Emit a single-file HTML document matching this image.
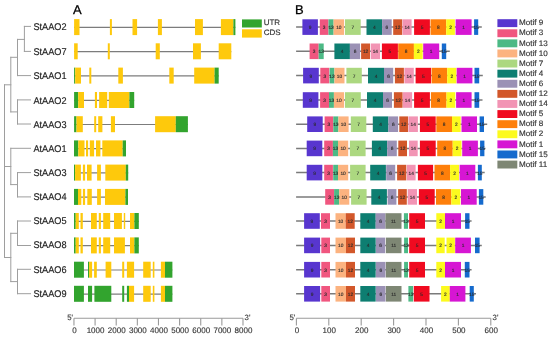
<!DOCTYPE html><html><head><meta charset="utf-8"><style>html,body{margin:0;padding:0;background:#fff;overflow:hidden;width:550px;height:339px;}svg{display:block;will-change:transform;}text{font-family:"Liberation Sans",sans-serif;text-rendering:geometricPrecision;}</style></head><body>
<svg width="550" height="339" viewBox="0 0 550 339">
<rect width="550" height="339" fill="#fff"/>
<g stroke="#9e9e9e" stroke-width="1" fill="none" stroke-linecap="square">
<line x1="24.4" y1="26.4" x2="30.5" y2="26.4"/>
<line x1="24.4" y1="51.4" x2="30.5" y2="51.4"/>
<line x1="24.4" y1="26.4" x2="24.4" y2="51.4"/>
<line x1="17.5" y1="39.4" x2="24.4" y2="39.4"/>
<line x1="17.5" y1="75.6" x2="30.5" y2="75.6"/>
<line x1="17.5" y1="39.4" x2="17.5" y2="75.6"/>
<line x1="17.5" y1="99.9" x2="30.5" y2="99.9"/>
<line x1="17.5" y1="124" x2="30.5" y2="124"/>
<line x1="17.5" y1="99.9" x2="17.5" y2="124"/>
<line x1="10.8" y1="57.3" x2="17.5" y2="57.3"/>
<line x1="10.8" y1="111.9" x2="17.5" y2="111.9"/>
<line x1="10.8" y1="57.3" x2="10.8" y2="111.9"/>
<line x1="4.5" y1="84.8" x2="10.8" y2="84.8"/>
<line x1="10.8" y1="148.3" x2="30.5" y2="148.3"/>
<line x1="17.5" y1="172.6" x2="30.5" y2="172.6"/>
<line x1="17.5" y1="196.9" x2="30.5" y2="196.9"/>
<line x1="17.5" y1="172.6" x2="17.5" y2="196.9"/>
<line x1="10.8" y1="184.6" x2="17.5" y2="184.6"/>
<line x1="10.8" y1="148.3" x2="10.8" y2="184.6"/>
<line x1="4.5" y1="166.5" x2="10.8" y2="166.5"/>
<line x1="17.5" y1="221" x2="30.5" y2="221"/>
<line x1="17.5" y1="245.5" x2="30.5" y2="245.5"/>
<line x1="17.5" y1="221" x2="17.5" y2="245.5"/>
<line x1="17.5" y1="269.3" x2="30.5" y2="269.3"/>
<line x1="17.5" y1="293.7" x2="30.5" y2="293.7"/>
<line x1="17.5" y1="269.3" x2="17.5" y2="293.7"/>
<line x1="10.8" y1="233.3" x2="17.5" y2="233.3"/>
<line x1="10.8" y1="281.6" x2="17.5" y2="281.6"/>
<line x1="10.8" y1="233.3" x2="10.8" y2="281.6"/>
<line x1="4.5" y1="257.5" x2="10.8" y2="257.5"/>
<line x1="4.5" y1="84.8" x2="4.5" y2="257.5"/>
</g>
<text transform="translate(33.4 29.85) scale(1 1.06)" font-size="9.2" fill="#1e1e1e" stroke="#1e1e1e" stroke-width="0.15">StAAO2</text>
<text transform="translate(33.4 54.55) scale(1 1.06)" font-size="9.2" fill="#1e1e1e" stroke="#1e1e1e" stroke-width="0.15">StAAO7</text>
<text transform="translate(33.4 78.85) scale(1 1.06)" font-size="9.2" fill="#1e1e1e" stroke="#1e1e1e" stroke-width="0.15">StAAO1</text>
<text transform="translate(33.4 103.55) scale(1 1.06)" font-size="9.2" fill="#1e1e1e" stroke="#1e1e1e" stroke-width="0.15">AtAAO2</text>
<text transform="translate(33.4 127.55) scale(1 1.06)" font-size="9.2" fill="#1e1e1e" stroke="#1e1e1e" stroke-width="0.15">AtAAO3</text>
<text transform="translate(33.4 151.55) scale(1 1.06)" font-size="9.2" fill="#1e1e1e" stroke="#1e1e1e" stroke-width="0.15">AtAAO1</text>
<text transform="translate(33.4 175.7) scale(1 1.06)" font-size="9.2" fill="#1e1e1e" stroke="#1e1e1e" stroke-width="0.15">StAAO3</text>
<text transform="translate(33.4 200.45) scale(1 1.06)" font-size="9.2" fill="#1e1e1e" stroke="#1e1e1e" stroke-width="0.15">StAAO4</text>
<text transform="translate(33.4 224.45) scale(1 1.06)" font-size="9.2" fill="#1e1e1e" stroke="#1e1e1e" stroke-width="0.15">StAAO5</text>
<text transform="translate(33.4 248.45) scale(1 1.06)" font-size="9.2" fill="#1e1e1e" stroke="#1e1e1e" stroke-width="0.15">StAAO8</text>
<text transform="translate(33.4 272.95) scale(1 1.06)" font-size="9.2" fill="#1e1e1e" stroke="#1e1e1e" stroke-width="0.15">StAAO6</text>
<text transform="translate(33.4 297.45) scale(1 1.06)" font-size="9.2" fill="#1e1e1e" stroke="#1e1e1e" stroke-width="0.15">StAAO9</text>
<text transform="translate(72.9 13.55) scale(1 0.97)" font-size="13" fill="#000" stroke="#000" stroke-width="0.28">A</text>
<text transform="translate(295 13.55) scale(1 0.97)" font-size="13" fill="#000" stroke="#000" stroke-width="0.28">B</text>
<line x1="74" y1="27.4" x2="235.4" y2="27.4" stroke="#7c7c7c" stroke-width="1.2"/>
<rect x="74.1" y="19.1" width="5.4" height="16" fill="#fec90c"/>
<rect x="109.9" y="19.1" width="2" height="16" fill="#fec90c"/>
<rect x="132.5" y="19.1" width="4.6" height="16" fill="#fec90c"/>
<rect x="157.9" y="19.1" width="4" height="16" fill="#fec90c"/>
<rect x="195" y="19.1" width="7.9" height="16" fill="#fec90c"/>
<rect x="220.9" y="19.1" width="12.5" height="16" fill="#fec90c"/>
<rect x="233.4" y="19.1" width="2" height="16" fill="#32a42e"/>
<line x1="74" y1="51.6" x2="231.3" y2="51.6" stroke="#7c7c7c" stroke-width="1.2"/>
<rect x="74.1" y="43.3" width="3.6" height="16" fill="#fec90c"/>
<rect x="107.8" y="43.3" width="2" height="16" fill="#fec90c"/>
<rect x="155.7" y="43.3" width="4.1" height="16" fill="#fec90c"/>
<rect x="193" y="43.3" width="7.9" height="16" fill="#fec90c"/>
<rect x="218.7" y="43.3" width="12.6" height="16" fill="#fec90c"/>
<line x1="74" y1="75.9" x2="218.7" y2="75.9" stroke="#7c7c7c" stroke-width="1.2"/>
<rect x="74.1" y="67.6" width="1.1" height="16" fill="#32a42e"/>
<rect x="75.2" y="67.6" width="5.8" height="16" fill="#fec90c"/>
<rect x="89.3" y="67.6" width="2" height="16" fill="#fec90c"/>
<rect x="118.3" y="67.6" width="4.6" height="16" fill="#fec90c"/>
<rect x="169.3" y="67.6" width="4.4" height="16" fill="#fec90c"/>
<rect x="194.2" y="67.6" width="20.4" height="16" fill="#fec90c"/>
<rect x="214.6" y="67.6" width="4.1" height="16" fill="#32a42e"/>
<line x1="74" y1="100.3" x2="134.2" y2="100.3" stroke="#7c7c7c" stroke-width="1.2"/>
<rect x="74.1" y="92" width="4.1" height="16" fill="#32a42e"/>
<rect x="78.2" y="92" width="5.8" height="16" fill="#fec90c"/>
<rect x="94.9" y="92" width="2.1" height="16" fill="#fec90c"/>
<rect x="99.1" y="92" width="8.1" height="16" fill="#fec90c"/>
<rect x="108.8" y="92" width="20.6" height="16" fill="#fec90c"/>
<rect x="129.4" y="92" width="4.8" height="16" fill="#32a42e"/>
<line x1="74" y1="124.5" x2="187.9" y2="124.5" stroke="#7c7c7c" stroke-width="1.2"/>
<rect x="74.1" y="116.2" width="2.4" height="16" fill="#32a42e"/>
<rect x="76.5" y="116.2" width="6.3" height="16" fill="#fec90c"/>
<rect x="94.2" y="116.2" width="2" height="16" fill="#fec90c"/>
<rect x="98.2" y="116.2" width="4.2" height="16" fill="#fec90c"/>
<rect x="110.9" y="116.2" width="4.1" height="16" fill="#fec90c"/>
<rect x="155.1" y="116.2" width="20.7" height="16" fill="#fec90c"/>
<rect x="175.8" y="116.2" width="12.1" height="16" fill="#32a42e"/>
<line x1="74" y1="148.7" x2="126" y2="148.7" stroke="#7c7c7c" stroke-width="1.2"/>
<rect x="74" y="140.4" width="4.3" height="16" fill="#32a42e"/>
<rect x="78.3" y="140.4" width="6.2" height="16" fill="#fec90c"/>
<rect x="86" y="140.4" width="2.1" height="16" fill="#fec90c"/>
<rect x="89.8" y="140.4" width="4.3" height="16" fill="#fec90c"/>
<rect x="96" y="140.4" width="4.4" height="16" fill="#fec90c"/>
<rect x="102.3" y="140.4" width="20.4" height="16" fill="#fec90c"/>
<rect x="122.7" y="140.4" width="3.3" height="16" fill="#32a42e"/>
<line x1="74" y1="172.9" x2="128.2" y2="172.9" stroke="#7c7c7c" stroke-width="1.2"/>
<rect x="74" y="164.6" width="1.1" height="16" fill="#32a42e"/>
<rect x="75.1" y="164.6" width="5.8" height="16" fill="#fec90c"/>
<rect x="82.9" y="164.6" width="2.2" height="16" fill="#fec90c"/>
<rect x="87" y="164.6" width="4.6" height="16" fill="#fec90c"/>
<rect x="97.1" y="164.6" width="3.8" height="16" fill="#fec90c"/>
<rect x="105.3" y="164.6" width="20.5" height="16" fill="#fec90c"/>
<rect x="125.8" y="164.6" width="2.4" height="16" fill="#32a42e"/>
<line x1="74" y1="197.2" x2="128" y2="197.2" stroke="#7c7c7c" stroke-width="1.2"/>
<rect x="74" y="188.9" width="4" height="16" fill="#32a42e"/>
<rect x="78" y="188.9" width="3.3" height="16" fill="#fec90c"/>
<rect x="82.9" y="188.9" width="2.2" height="16" fill="#fec90c"/>
<rect x="87.3" y="188.9" width="4.5" height="16" fill="#fec90c"/>
<rect x="97.1" y="188.9" width="3.8" height="16" fill="#fec90c"/>
<rect x="105" y="188.9" width="20.4" height="16" fill="#fec90c"/>
<rect x="125.4" y="188.9" width="2.6" height="16" fill="#32a42e"/>
<line x1="74" y1="221.3" x2="138.8" y2="221.3" stroke="#7c7c7c" stroke-width="1.2"/>
<rect x="74" y="213" width="1.7" height="16" fill="#32a42e"/>
<rect x="75.7" y="213" width="3.1" height="16" fill="#fec90c"/>
<rect x="80.5" y="213" width="2.3" height="16" fill="#fec90c"/>
<rect x="91" y="213" width="5.8" height="16" fill="#fec90c"/>
<rect x="98.8" y="213" width="2.1" height="16" fill="#fec90c"/>
<rect x="103.2" y="213" width="7" height="16" fill="#fec90c"/>
<rect x="114" y="213" width="7.9" height="16" fill="#fec90c"/>
<rect x="123.8" y="213" width="1.4" height="16" fill="#fec90c"/>
<rect x="130" y="213" width="4.4" height="16" fill="#fec90c"/>
<rect x="134.4" y="213" width="4.4" height="16" fill="#32a42e"/>
<line x1="74" y1="245.7" x2="138.8" y2="245.7" stroke="#7c7c7c" stroke-width="1.2"/>
<rect x="74" y="237.4" width="1.7" height="16" fill="#32a42e"/>
<rect x="75.7" y="237.4" width="3.1" height="16" fill="#fec90c"/>
<rect x="80.5" y="237.4" width="2.3" height="16" fill="#fec90c"/>
<rect x="91" y="237.4" width="5.8" height="16" fill="#fec90c"/>
<rect x="98.8" y="237.4" width="2.1" height="16" fill="#fec90c"/>
<rect x="103.2" y="237.4" width="7" height="16" fill="#fec90c"/>
<rect x="114" y="237.4" width="10.9" height="16" fill="#fec90c"/>
<rect x="130" y="237.4" width="4.4" height="16" fill="#fec90c"/>
<rect x="134.4" y="237.4" width="4.4" height="16" fill="#32a42e"/>
<line x1="74" y1="270" x2="172.4" y2="270" stroke="#7c7c7c" stroke-width="1.2"/>
<rect x="74" y="261.7" width="9.9" height="16" fill="#32a42e"/>
<rect x="88" y="261.7" width="1.1" height="16" fill="#32a42e"/>
<rect x="89.1" y="261.7" width="3" height="16" fill="#fec90c"/>
<rect x="94.1" y="261.7" width="2.7" height="16" fill="#fec90c"/>
<rect x="105.6" y="261.7" width="5.7" height="16" fill="#fec90c"/>
<rect x="122.2" y="261.7" width="2" height="16" fill="#fec90c"/>
<rect x="126.9" y="261.7" width="7.2" height="16" fill="#fec90c"/>
<rect x="143.2" y="261.7" width="7.5" height="16" fill="#fec90c"/>
<rect x="152.8" y="261.7" width="1.6" height="16" fill="#fec90c"/>
<rect x="160.9" y="261.7" width="4.1" height="16" fill="#fec90c"/>
<rect x="165" y="261.7" width="7.4" height="16" fill="#32a42e"/>
<line x1="74" y1="294.1" x2="172.4" y2="294.1" stroke="#7c7c7c" stroke-width="1.2"/>
<rect x="74" y="285.8" width="9.9" height="16" fill="#32a42e"/>
<rect x="88" y="285.8" width="4.1" height="16" fill="#32a42e"/>
<rect x="94.4" y="285.8" width="16.9" height="16" fill="#32a42e"/>
<rect x="122.2" y="285.8" width="2" height="16" fill="#32a42e"/>
<rect x="126.9" y="285.8" width="2.1" height="16" fill="#32a42e"/>
<rect x="129" y="285.8" width="5.1" height="16" fill="#fec90c"/>
<rect x="143.2" y="285.8" width="7.5" height="16" fill="#fec90c"/>
<rect x="152.8" y="285.8" width="1.6" height="16" fill="#fec90c"/>
<rect x="160.9" y="285.8" width="4.1" height="16" fill="#fec90c"/>
<rect x="165" y="285.8" width="7.4" height="16" fill="#32a42e"/>
<rect x="242" y="19.4" width="19.8" height="8.1" fill="#32a42e"/>
<rect x="242" y="29.3" width="19.8" height="8.3" fill="#fec90c"/>
<text transform="translate(263.7 24.9) scale(1 0.98)" font-size="8" fill="#333" stroke="#333" stroke-width="0.15">UTR</text>
<text transform="translate(263.7 35.1) scale(1 0.98)" font-size="8" fill="#333" stroke="#333" stroke-width="0.15">CDS</text>
<line x1="296.1" y1="27.1" x2="481.8" y2="27.1" stroke="#7a7a7a" stroke-width="1.5"/>
<rect x="302.4" y="19.3" width="15.5" height="15.6" fill="#5836cf"/>
<rect x="319.8" y="19.3" width="8.7" height="15.6" fill="#f0567f"/>
<rect x="328.5" y="19.3" width="5.1" height="15.6" fill="#4cb985"/>
<rect x="333.6" y="19.3" width="10.5" height="15.6" fill="#fcb380"/>
<rect x="345" y="19.3" width="15.7" height="15.6" fill="#acd880"/>
<rect x="366.5" y="19.3" width="15.6" height="15.6" fill="#0d7e71"/>
<rect x="382.1" y="19.3" width="9.6" height="15.6" fill="#9b91b5"/>
<rect x="393.2" y="19.3" width="9" height="15.6" fill="#d2572a"/>
<rect x="402.5" y="19.3" width="9.1" height="15.6" fill="#f294b4"/>
<rect x="414.1" y="19.3" width="15.8" height="15.6" fill="#f00a20"/>
<rect x="430.5" y="19.3" width="15.7" height="15.6" fill="#fe7f0a"/>
<rect x="446.2" y="19.3" width="8.7" height="15.6" fill="#fcfa1e"/>
<rect x="455.6" y="19.3" width="16" height="15.6" fill="#d616d3"/>
<rect x="474.1" y="19.3" width="4.1" height="15.6" fill="#156acd"/>
<text x="310.15" y="29.05" font-size="4.8" fill="#2a2a2a" text-anchor="middle" stroke="#2a2a2a" stroke-width="0.12">9</text>
<text x="324.15" y="29.05" font-size="4.8" fill="#2a2a2a" text-anchor="middle" stroke="#2a2a2a" stroke-width="0.12">3</text>
<text x="331.05" y="29.05" font-size="4.8" fill="#2a2a2a" text-anchor="middle" stroke="#2a2a2a" stroke-width="0.12">13</text>
<text x="338.85" y="29.05" font-size="4.8" fill="#2a2a2a" text-anchor="middle" stroke="#2a2a2a" stroke-width="0.12">10</text>
<text x="352.85" y="29.05" font-size="4.8" fill="#2a2a2a" text-anchor="middle" stroke="#2a2a2a" stroke-width="0.12">7</text>
<text x="374.3" y="29.05" font-size="4.8" fill="#2a2a2a" text-anchor="middle" stroke="#2a2a2a" stroke-width="0.12">4</text>
<text x="386.9" y="29.05" font-size="4.8" fill="#2a2a2a" text-anchor="middle" stroke="#2a2a2a" stroke-width="0.12">6</text>
<text x="397.7" y="29.05" font-size="4.8" fill="#2a2a2a" text-anchor="middle" stroke="#2a2a2a" stroke-width="0.12">12</text>
<text x="407.05" y="29.05" font-size="4.8" fill="#2a2a2a" text-anchor="middle" stroke="#2a2a2a" stroke-width="0.12">14</text>
<text x="422" y="29.05" font-size="4.8" fill="#2a2a2a" text-anchor="middle" stroke="#2a2a2a" stroke-width="0.12">5</text>
<text x="438.35" y="29.05" font-size="4.8" fill="#2a2a2a" text-anchor="middle" stroke="#2a2a2a" stroke-width="0.12">8</text>
<text x="450.55" y="29.05" font-size="4.8" fill="#2a2a2a" text-anchor="middle" stroke="#2a2a2a" stroke-width="0.12">2</text>
<text x="463.6" y="29.05" font-size="4.8" fill="#2a2a2a" text-anchor="middle" stroke="#2a2a2a" stroke-width="0.12">1</text>
<text x="476.15" y="29.05" font-size="4.8" fill="#2a2a2a" text-anchor="middle" stroke="#2a2a2a" stroke-width="0.12">15</text>
<line x1="296.1" y1="51.3" x2="449.8" y2="51.3" stroke="#7a7a7a" stroke-width="1.5"/>
<rect x="309.6" y="43.5" width="9.1" height="15.6" fill="#f0567f"/>
<rect x="318.7" y="43.5" width="5" height="15.6" fill="#4cb985"/>
<rect x="334.4" y="43.5" width="15.5" height="15.6" fill="#0d7e71"/>
<rect x="349.9" y="43.5" width="10.2" height="15.6" fill="#9b91b5"/>
<rect x="361.1" y="43.5" width="8.9" height="15.6" fill="#d2572a"/>
<rect x="370.7" y="43.5" width="9.3" height="15.6" fill="#f294b4"/>
<rect x="381.9" y="43.5" width="16" height="15.6" fill="#f00a20"/>
<rect x="398.2" y="43.5" width="15.7" height="15.6" fill="#fe7f0a"/>
<rect x="413.9" y="43.5" width="8.8" height="15.6" fill="#fcfa1e"/>
<rect x="423.2" y="43.5" width="16" height="15.6" fill="#d616d3"/>
<rect x="441.8" y="43.5" width="4.4" height="15.6" fill="#156acd"/>
<text x="314.15" y="53.25" font-size="4.8" fill="#2a2a2a" text-anchor="middle" stroke="#2a2a2a" stroke-width="0.12">3</text>
<text x="321.2" y="53.25" font-size="4.8" fill="#2a2a2a" text-anchor="middle" stroke="#2a2a2a" stroke-width="0.12">13</text>
<text x="342.15" y="53.25" font-size="4.8" fill="#2a2a2a" text-anchor="middle" stroke="#2a2a2a" stroke-width="0.12">4</text>
<text x="355" y="53.25" font-size="4.8" fill="#2a2a2a" text-anchor="middle" stroke="#2a2a2a" stroke-width="0.12">6</text>
<text x="365.55" y="53.25" font-size="4.8" fill="#2a2a2a" text-anchor="middle" stroke="#2a2a2a" stroke-width="0.12">12</text>
<text x="375.35" y="53.25" font-size="4.8" fill="#2a2a2a" text-anchor="middle" stroke="#2a2a2a" stroke-width="0.12">14</text>
<text x="389.9" y="53.25" font-size="4.8" fill="#2a2a2a" text-anchor="middle" stroke="#2a2a2a" stroke-width="0.12">5</text>
<text x="406.05" y="53.25" font-size="4.8" fill="#2a2a2a" text-anchor="middle" stroke="#2a2a2a" stroke-width="0.12">8</text>
<text x="418.3" y="53.25" font-size="4.8" fill="#2a2a2a" text-anchor="middle" stroke="#2a2a2a" stroke-width="0.12">2</text>
<text x="431.2" y="53.25" font-size="4.8" fill="#2a2a2a" text-anchor="middle" stroke="#2a2a2a" stroke-width="0.12">1</text>
<text x="444" y="53.25" font-size="4.8" fill="#2a2a2a" text-anchor="middle" stroke="#2a2a2a" stroke-width="0.12">15</text>
<line x1="296.1" y1="75.6" x2="482.8" y2="75.6" stroke="#7a7a7a" stroke-width="1.5"/>
<rect x="303.1" y="67.8" width="15.7" height="15.6" fill="#5836cf"/>
<rect x="320.3" y="67.8" width="9" height="15.6" fill="#f0567f"/>
<rect x="329.6" y="67.8" width="4.8" height="15.6" fill="#4cb985"/>
<rect x="334.4" y="67.8" width="10.1" height="15.6" fill="#fcb380"/>
<rect x="346.4" y="67.8" width="15.4" height="15.6" fill="#acd880"/>
<rect x="368" y="67.8" width="16" height="15.6" fill="#0d7e71"/>
<rect x="384" y="67.8" width="9.2" height="15.6" fill="#9b91b5"/>
<rect x="394.9" y="67.8" width="9" height="15.6" fill="#d2572a"/>
<rect x="404.4" y="67.8" width="9.4" height="15.6" fill="#f294b4"/>
<rect x="415.6" y="67.8" width="15.5" height="15.6" fill="#f00a20"/>
<rect x="431.6" y="67.8" width="15.6" height="15.6" fill="#fe7f0a"/>
<rect x="447.2" y="67.8" width="9.2" height="15.6" fill="#fcfa1e"/>
<rect x="456.7" y="67.8" width="15.7" height="15.6" fill="#d616d3"/>
<rect x="474.5" y="67.8" width="4.7" height="15.6" fill="#156acd"/>
<text x="310.95" y="77.55" font-size="4.8" fill="#2a2a2a" text-anchor="middle" stroke="#2a2a2a" stroke-width="0.12">9</text>
<text x="324.8" y="77.55" font-size="4.8" fill="#2a2a2a" text-anchor="middle" stroke="#2a2a2a" stroke-width="0.12">3</text>
<text x="332" y="77.55" font-size="4.8" fill="#2a2a2a" text-anchor="middle" stroke="#2a2a2a" stroke-width="0.12">13</text>
<text x="339.45" y="77.55" font-size="4.8" fill="#2a2a2a" text-anchor="middle" stroke="#2a2a2a" stroke-width="0.12">10</text>
<text x="354.1" y="77.55" font-size="4.8" fill="#2a2a2a" text-anchor="middle" stroke="#2a2a2a" stroke-width="0.12">7</text>
<text x="376" y="77.55" font-size="4.8" fill="#2a2a2a" text-anchor="middle" stroke="#2a2a2a" stroke-width="0.12">4</text>
<text x="388.6" y="77.55" font-size="4.8" fill="#2a2a2a" text-anchor="middle" stroke="#2a2a2a" stroke-width="0.12">6</text>
<text x="399.4" y="77.55" font-size="4.8" fill="#2a2a2a" text-anchor="middle" stroke="#2a2a2a" stroke-width="0.12">12</text>
<text x="409.1" y="77.55" font-size="4.8" fill="#2a2a2a" text-anchor="middle" stroke="#2a2a2a" stroke-width="0.12">14</text>
<text x="423.35" y="77.55" font-size="4.8" fill="#2a2a2a" text-anchor="middle" stroke="#2a2a2a" stroke-width="0.12">5</text>
<text x="439.4" y="77.55" font-size="4.8" fill="#2a2a2a" text-anchor="middle" stroke="#2a2a2a" stroke-width="0.12">8</text>
<text x="451.8" y="77.55" font-size="4.8" fill="#2a2a2a" text-anchor="middle" stroke="#2a2a2a" stroke-width="0.12">2</text>
<text x="464.55" y="77.55" font-size="4.8" fill="#2a2a2a" text-anchor="middle" stroke="#2a2a2a" stroke-width="0.12">1</text>
<text x="476.85" y="77.55" font-size="4.8" fill="#2a2a2a" text-anchor="middle" stroke="#2a2a2a" stroke-width="0.12">15</text>
<line x1="296.1" y1="100" x2="482.5" y2="100" stroke="#7a7a7a" stroke-width="1.5"/>
<rect x="302.8" y="92.2" width="15.6" height="15.6" fill="#5836cf"/>
<rect x="320.1" y="92.2" width="8.9" height="15.6" fill="#f0567f"/>
<rect x="329" y="92.2" width="4.9" height="15.6" fill="#4cb985"/>
<rect x="333.9" y="92.2" width="10.2" height="15.6" fill="#fcb380"/>
<rect x="345" y="92.2" width="15.8" height="15.6" fill="#acd880"/>
<rect x="367" y="92.2" width="16" height="15.6" fill="#0d7e71"/>
<rect x="383" y="92.2" width="9" height="15.6" fill="#9b91b5"/>
<rect x="393.9" y="92.2" width="8.7" height="15.6" fill="#d2572a"/>
<rect x="402.9" y="92.2" width="9.2" height="15.6" fill="#f294b4"/>
<rect x="414.1" y="92.2" width="15.8" height="15.6" fill="#f00a20"/>
<rect x="430.9" y="92.2" width="15.6" height="15.6" fill="#fe7f0a"/>
<rect x="446.5" y="92.2" width="8.8" height="15.6" fill="#fcfa1e"/>
<rect x="456.1" y="92.2" width="15.5" height="15.6" fill="#d616d3"/>
<rect x="474.5" y="92.2" width="4.7" height="15.6" fill="#156acd"/>
<text x="310.6" y="101.95" font-size="4.8" fill="#2a2a2a" text-anchor="middle" stroke="#2a2a2a" stroke-width="0.12">9</text>
<text x="324.55" y="101.95" font-size="4.8" fill="#2a2a2a" text-anchor="middle" stroke="#2a2a2a" stroke-width="0.12">3</text>
<text x="331.45" y="101.95" font-size="4.8" fill="#2a2a2a" text-anchor="middle" stroke="#2a2a2a" stroke-width="0.12">13</text>
<text x="339" y="101.95" font-size="4.8" fill="#2a2a2a" text-anchor="middle" stroke="#2a2a2a" stroke-width="0.12">10</text>
<text x="352.9" y="101.95" font-size="4.8" fill="#2a2a2a" text-anchor="middle" stroke="#2a2a2a" stroke-width="0.12">7</text>
<text x="375" y="101.95" font-size="4.8" fill="#2a2a2a" text-anchor="middle" stroke="#2a2a2a" stroke-width="0.12">4</text>
<text x="387.5" y="101.95" font-size="4.8" fill="#2a2a2a" text-anchor="middle" stroke="#2a2a2a" stroke-width="0.12">6</text>
<text x="398.25" y="101.95" font-size="4.8" fill="#2a2a2a" text-anchor="middle" stroke="#2a2a2a" stroke-width="0.12">12</text>
<text x="407.5" y="101.95" font-size="4.8" fill="#2a2a2a" text-anchor="middle" stroke="#2a2a2a" stroke-width="0.12">14</text>
<text x="422" y="101.95" font-size="4.8" fill="#2a2a2a" text-anchor="middle" stroke="#2a2a2a" stroke-width="0.12">5</text>
<text x="438.7" y="101.95" font-size="4.8" fill="#2a2a2a" text-anchor="middle" stroke="#2a2a2a" stroke-width="0.12">8</text>
<text x="450.9" y="101.95" font-size="4.8" fill="#2a2a2a" text-anchor="middle" stroke="#2a2a2a" stroke-width="0.12">2</text>
<text x="463.85" y="101.95" font-size="4.8" fill="#2a2a2a" text-anchor="middle" stroke="#2a2a2a" stroke-width="0.12">1</text>
<text x="476.85" y="101.95" font-size="4.8" fill="#2a2a2a" text-anchor="middle" stroke="#2a2a2a" stroke-width="0.12">15</text>
<line x1="296.1" y1="124.2" x2="487.2" y2="124.2" stroke="#7a7a7a" stroke-width="1.5"/>
<rect x="307.2" y="116.4" width="15.5" height="15.6" fill="#5836cf"/>
<rect x="324.6" y="116.4" width="8.7" height="15.6" fill="#f0567f"/>
<rect x="333.3" y="116.4" width="5.1" height="15.6" fill="#4cb985"/>
<rect x="338.4" y="116.4" width="10.2" height="15.6" fill="#fcb380"/>
<rect x="350.8" y="116.4" width="15.5" height="15.6" fill="#acd880"/>
<rect x="372.8" y="116.4" width="15.6" height="15.6" fill="#0d7e71"/>
<rect x="388.4" y="116.4" width="9.7" height="15.6" fill="#9b91b5"/>
<rect x="399.3" y="116.4" width="8.7" height="15.6" fill="#d2572a"/>
<rect x="408.4" y="116.4" width="9.5" height="15.6" fill="#f294b4"/>
<rect x="419.9" y="116.4" width="15.8" height="15.6" fill="#f00a20"/>
<rect x="436.3" y="116.4" width="15.7" height="15.6" fill="#fe7f0a"/>
<rect x="452" y="116.4" width="8.7" height="15.6" fill="#fcfa1e"/>
<rect x="461.5" y="116.4" width="15.5" height="15.6" fill="#d616d3"/>
<rect x="479.6" y="116.4" width="4.4" height="15.6" fill="#156acd"/>
<text x="314.95" y="126.15" font-size="4.8" fill="#2a2a2a" text-anchor="middle" stroke="#2a2a2a" stroke-width="0.12">9</text>
<text x="328.95" y="126.15" font-size="4.8" fill="#2a2a2a" text-anchor="middle" stroke="#2a2a2a" stroke-width="0.12">3</text>
<text x="335.85" y="126.15" font-size="4.8" fill="#2a2a2a" text-anchor="middle" stroke="#2a2a2a" stroke-width="0.12">13</text>
<text x="343.5" y="126.15" font-size="4.8" fill="#2a2a2a" text-anchor="middle" stroke="#2a2a2a" stroke-width="0.12">10</text>
<text x="358.55" y="126.15" font-size="4.8" fill="#2a2a2a" text-anchor="middle" stroke="#2a2a2a" stroke-width="0.12">7</text>
<text x="380.6" y="126.15" font-size="4.8" fill="#2a2a2a" text-anchor="middle" stroke="#2a2a2a" stroke-width="0.12">4</text>
<text x="393.25" y="126.15" font-size="4.8" fill="#2a2a2a" text-anchor="middle" stroke="#2a2a2a" stroke-width="0.12">6</text>
<text x="403.65" y="126.15" font-size="4.8" fill="#2a2a2a" text-anchor="middle" stroke="#2a2a2a" stroke-width="0.12">12</text>
<text x="413.15" y="126.15" font-size="4.8" fill="#2a2a2a" text-anchor="middle" stroke="#2a2a2a" stroke-width="0.12">14</text>
<text x="427.8" y="126.15" font-size="4.8" fill="#2a2a2a" text-anchor="middle" stroke="#2a2a2a" stroke-width="0.12">5</text>
<text x="444.15" y="126.15" font-size="4.8" fill="#2a2a2a" text-anchor="middle" stroke="#2a2a2a" stroke-width="0.12">8</text>
<text x="456.35" y="126.15" font-size="4.8" fill="#2a2a2a" text-anchor="middle" stroke="#2a2a2a" stroke-width="0.12">2</text>
<text x="469.25" y="126.15" font-size="4.8" fill="#2a2a2a" text-anchor="middle" stroke="#2a2a2a" stroke-width="0.12">1</text>
<text x="481.8" y="126.15" font-size="4.8" fill="#2a2a2a" text-anchor="middle" stroke="#2a2a2a" stroke-width="0.12">15</text>
<line x1="296.1" y1="148.4" x2="485.5" y2="148.4" stroke="#7a7a7a" stroke-width="1.5"/>
<rect x="306.7" y="140.6" width="15.6" height="15.6" fill="#5836cf"/>
<rect x="324.2" y="140.6" width="8.7" height="15.6" fill="#f0567f"/>
<rect x="332.9" y="140.6" width="5.1" height="15.6" fill="#4cb985"/>
<rect x="338" y="140.6" width="10.2" height="15.6" fill="#fcb380"/>
<rect x="349.9" y="140.6" width="15.7" height="15.6" fill="#acd880"/>
<rect x="371.9" y="140.6" width="15.3" height="15.6" fill="#0d7e71"/>
<rect x="387.2" y="140.6" width="9.6" height="15.6" fill="#9b91b5"/>
<rect x="398.3" y="140.6" width="8.7" height="15.6" fill="#d2572a"/>
<rect x="409" y="140.6" width="8.7" height="15.6" fill="#f294b4"/>
<rect x="419.9" y="140.6" width="15.8" height="15.6" fill="#f00a20"/>
<rect x="437.2" y="140.6" width="15.5" height="15.6" fill="#fe7f0a"/>
<rect x="452.7" y="140.6" width="8.8" height="15.6" fill="#fcfa1e"/>
<rect x="462.2" y="140.6" width="15.7" height="15.6" fill="#d616d3"/>
<rect x="480.1" y="140.6" width="4.3" height="15.6" fill="#156acd"/>
<text x="314.5" y="150.35" font-size="4.8" fill="#2a2a2a" text-anchor="middle" stroke="#2a2a2a" stroke-width="0.12">9</text>
<text x="328.55" y="150.35" font-size="4.8" fill="#2a2a2a" text-anchor="middle" stroke="#2a2a2a" stroke-width="0.12">3</text>
<text x="335.45" y="150.35" font-size="4.8" fill="#2a2a2a" text-anchor="middle" stroke="#2a2a2a" stroke-width="0.12">13</text>
<text x="343.1" y="150.35" font-size="4.8" fill="#2a2a2a" text-anchor="middle" stroke="#2a2a2a" stroke-width="0.12">10</text>
<text x="357.75" y="150.35" font-size="4.8" fill="#2a2a2a" text-anchor="middle" stroke="#2a2a2a" stroke-width="0.12">7</text>
<text x="379.55" y="150.35" font-size="4.8" fill="#2a2a2a" text-anchor="middle" stroke="#2a2a2a" stroke-width="0.12">4</text>
<text x="392" y="150.35" font-size="4.8" fill="#2a2a2a" text-anchor="middle" stroke="#2a2a2a" stroke-width="0.12">6</text>
<text x="402.65" y="150.35" font-size="4.8" fill="#2a2a2a" text-anchor="middle" stroke="#2a2a2a" stroke-width="0.12">12</text>
<text x="413.35" y="150.35" font-size="4.8" fill="#2a2a2a" text-anchor="middle" stroke="#2a2a2a" stroke-width="0.12">14</text>
<text x="427.8" y="150.35" font-size="4.8" fill="#2a2a2a" text-anchor="middle" stroke="#2a2a2a" stroke-width="0.12">5</text>
<text x="444.95" y="150.35" font-size="4.8" fill="#2a2a2a" text-anchor="middle" stroke="#2a2a2a" stroke-width="0.12">8</text>
<text x="457.1" y="150.35" font-size="4.8" fill="#2a2a2a" text-anchor="middle" stroke="#2a2a2a" stroke-width="0.12">2</text>
<text x="470.05" y="150.35" font-size="4.8" fill="#2a2a2a" text-anchor="middle" stroke="#2a2a2a" stroke-width="0.12">1</text>
<text x="482.25" y="150.35" font-size="4.8" fill="#2a2a2a" text-anchor="middle" stroke="#2a2a2a" stroke-width="0.12">15</text>
<line x1="296.1" y1="172.6" x2="484.7" y2="172.6" stroke="#7a7a7a" stroke-width="1.5"/>
<rect x="306.7" y="164.8" width="15.6" height="15.6" fill="#5836cf"/>
<rect x="324.2" y="164.8" width="8.7" height="15.6" fill="#f0567f"/>
<rect x="333.2" y="164.8" width="4.8" height="15.6" fill="#4cb985"/>
<rect x="338" y="164.8" width="10.2" height="15.6" fill="#fcb380"/>
<rect x="350.1" y="164.8" width="15.5" height="15.6" fill="#acd880"/>
<rect x="370.2" y="164.8" width="15.7" height="15.6" fill="#0d7e71"/>
<rect x="386.2" y="164.8" width="9" height="15.6" fill="#9b91b5"/>
<rect x="397.1" y="164.8" width="9.2" height="15.6" fill="#d2572a"/>
<rect x="406.8" y="164.8" width="8.8" height="15.6" fill="#f294b4"/>
<rect x="417.9" y="164.8" width="15.2" height="15.6" fill="#f00a20"/>
<rect x="434.5" y="164.8" width="15.6" height="15.6" fill="#fe7f0a"/>
<rect x="450.1" y="164.8" width="8.9" height="15.6" fill="#fcfa1e"/>
<rect x="459.6" y="164.8" width="15.7" height="15.6" fill="#d616d3"/>
<rect x="477.9" y="164.8" width="3.9" height="15.6" fill="#156acd"/>
<text x="314.5" y="174.55" font-size="4.8" fill="#2a2a2a" text-anchor="middle" stroke="#2a2a2a" stroke-width="0.12">9</text>
<text x="328.55" y="174.55" font-size="4.8" fill="#2a2a2a" text-anchor="middle" stroke="#2a2a2a" stroke-width="0.12">3</text>
<text x="335.6" y="174.55" font-size="4.8" fill="#2a2a2a" text-anchor="middle" stroke="#2a2a2a" stroke-width="0.12">13</text>
<text x="343.1" y="174.55" font-size="4.8" fill="#2a2a2a" text-anchor="middle" stroke="#2a2a2a" stroke-width="0.12">10</text>
<text x="357.85" y="174.55" font-size="4.8" fill="#2a2a2a" text-anchor="middle" stroke="#2a2a2a" stroke-width="0.12">7</text>
<text x="378.05" y="174.55" font-size="4.8" fill="#2a2a2a" text-anchor="middle" stroke="#2a2a2a" stroke-width="0.12">4</text>
<text x="390.7" y="174.55" font-size="4.8" fill="#2a2a2a" text-anchor="middle" stroke="#2a2a2a" stroke-width="0.12">6</text>
<text x="401.7" y="174.55" font-size="4.8" fill="#2a2a2a" text-anchor="middle" stroke="#2a2a2a" stroke-width="0.12">12</text>
<text x="411.2" y="174.55" font-size="4.8" fill="#2a2a2a" text-anchor="middle" stroke="#2a2a2a" stroke-width="0.12">14</text>
<text x="425.5" y="174.55" font-size="4.8" fill="#2a2a2a" text-anchor="middle" stroke="#2a2a2a" stroke-width="0.12">5</text>
<text x="442.3" y="174.55" font-size="4.8" fill="#2a2a2a" text-anchor="middle" stroke="#2a2a2a" stroke-width="0.12">8</text>
<text x="454.55" y="174.55" font-size="4.8" fill="#2a2a2a" text-anchor="middle" stroke="#2a2a2a" stroke-width="0.12">2</text>
<text x="467.45" y="174.55" font-size="4.8" fill="#2a2a2a" text-anchor="middle" stroke="#2a2a2a" stroke-width="0.12">1</text>
<text x="479.85" y="174.55" font-size="4.8" fill="#2a2a2a" text-anchor="middle" stroke="#2a2a2a" stroke-width="0.12">15</text>
<line x1="296.1" y1="196.9" x2="485.7" y2="196.9" stroke="#7a7a7a" stroke-width="1.5"/>
<rect x="325.2" y="189.1" width="8.9" height="15.6" fill="#f0567f"/>
<rect x="334.1" y="189.1" width="5.1" height="15.6" fill="#4cb985"/>
<rect x="339.2" y="189.1" width="10.1" height="15.6" fill="#fcb380"/>
<rect x="351.1" y="189.1" width="15.5" height="15.6" fill="#acd880"/>
<rect x="371.3" y="189.1" width="15.6" height="15.6" fill="#0d7e71"/>
<rect x="387.6" y="189.1" width="8.8" height="15.6" fill="#9b91b5"/>
<rect x="398.1" y="189.1" width="8.7" height="15.6" fill="#d2572a"/>
<rect x="407.7" y="189.1" width="9.3" height="15.6" fill="#f294b4"/>
<rect x="418.9" y="189.1" width="15.8" height="15.6" fill="#f00a20"/>
<rect x="436" y="189.1" width="15.3" height="15.6" fill="#fe7f0a"/>
<rect x="451.3" y="189.1" width="9" height="15.6" fill="#fcfa1e"/>
<rect x="461" y="189.1" width="15.7" height="15.6" fill="#d616d3"/>
<rect x="478.9" y="189.1" width="4.4" height="15.6" fill="#156acd"/>
<text x="329.65" y="198.85" font-size="4.8" fill="#2a2a2a" text-anchor="middle" stroke="#2a2a2a" stroke-width="0.12">3</text>
<text x="336.65" y="198.85" font-size="4.8" fill="#2a2a2a" text-anchor="middle" stroke="#2a2a2a" stroke-width="0.12">13</text>
<text x="344.25" y="198.85" font-size="4.8" fill="#2a2a2a" text-anchor="middle" stroke="#2a2a2a" stroke-width="0.12">10</text>
<text x="358.85" y="198.85" font-size="4.8" fill="#2a2a2a" text-anchor="middle" stroke="#2a2a2a" stroke-width="0.12">7</text>
<text x="379.1" y="198.85" font-size="4.8" fill="#2a2a2a" text-anchor="middle" stroke="#2a2a2a" stroke-width="0.12">4</text>
<text x="392" y="198.85" font-size="4.8" fill="#2a2a2a" text-anchor="middle" stroke="#2a2a2a" stroke-width="0.12">6</text>
<text x="402.45" y="198.85" font-size="4.8" fill="#2a2a2a" text-anchor="middle" stroke="#2a2a2a" stroke-width="0.12">12</text>
<text x="412.35" y="198.85" font-size="4.8" fill="#2a2a2a" text-anchor="middle" stroke="#2a2a2a" stroke-width="0.12">14</text>
<text x="426.8" y="198.85" font-size="4.8" fill="#2a2a2a" text-anchor="middle" stroke="#2a2a2a" stroke-width="0.12">5</text>
<text x="443.65" y="198.85" font-size="4.8" fill="#2a2a2a" text-anchor="middle" stroke="#2a2a2a" stroke-width="0.12">8</text>
<text x="455.8" y="198.85" font-size="4.8" fill="#2a2a2a" text-anchor="middle" stroke="#2a2a2a" stroke-width="0.12">2</text>
<text x="468.85" y="198.85" font-size="4.8" fill="#2a2a2a" text-anchor="middle" stroke="#2a2a2a" stroke-width="0.12">1</text>
<text x="481.1" y="198.85" font-size="4.8" fill="#2a2a2a" text-anchor="middle" stroke="#2a2a2a" stroke-width="0.12">15</text>
<line x1="296.1" y1="221" x2="471.6" y2="221" stroke="#7a7a7a" stroke-width="1.5"/>
<rect x="304.1" y="213.2" width="15.7" height="15.6" fill="#5836cf"/>
<rect x="321" y="213.2" width="9" height="15.6" fill="#f0567f"/>
<rect x="335.5" y="213.2" width="10.2" height="15.6" fill="#fcb380"/>
<rect x="345.7" y="213.2" width="9" height="15.6" fill="#d2572a"/>
<rect x="360.3" y="213.2" width="15.4" height="15.6" fill="#0d7e71"/>
<rect x="375.7" y="213.2" width="9.8" height="15.6" fill="#9b91b5"/>
<rect x="385.5" y="213.2" width="16" height="15.6" fill="#7e8774"/>
<rect x="403.9" y="213.2" width="4.1" height="15.6" fill="#4cb985"/>
<rect x="409.2" y="213.2" width="15.8" height="15.6" fill="#f00a20"/>
<rect x="436.3" y="213.2" width="8.7" height="15.6" fill="#fcfa1e"/>
<rect x="445" y="213.2" width="16" height="15.6" fill="#d616d3"/>
<rect x="465.1" y="213.2" width="4.4" height="15.6" fill="#156acd"/>
<text x="311.95" y="222.95" font-size="4.8" fill="#2a2a2a" text-anchor="middle" stroke="#2a2a2a" stroke-width="0.12">9</text>
<text x="325.5" y="222.95" font-size="4.8" fill="#2a2a2a" text-anchor="middle" stroke="#2a2a2a" stroke-width="0.12">3</text>
<text x="340.6" y="222.95" font-size="4.8" fill="#2a2a2a" text-anchor="middle" stroke="#2a2a2a" stroke-width="0.12">10</text>
<text x="350.2" y="222.95" font-size="4.8" fill="#2a2a2a" text-anchor="middle" stroke="#2a2a2a" stroke-width="0.12">12</text>
<text x="368" y="222.95" font-size="4.8" fill="#2a2a2a" text-anchor="middle" stroke="#2a2a2a" stroke-width="0.12">4</text>
<text x="380.6" y="222.95" font-size="4.8" fill="#2a2a2a" text-anchor="middle" stroke="#2a2a2a" stroke-width="0.12">6</text>
<text x="393.5" y="222.95" font-size="4.8" fill="#2a2a2a" text-anchor="middle" stroke="#2a2a2a" stroke-width="0.12">11</text>
<text x="405.95" y="222.95" font-size="4.8" fill="#2a2a2a" text-anchor="middle" stroke="#2a2a2a" stroke-width="0.12">13</text>
<text x="417.1" y="222.95" font-size="4.8" fill="#2a2a2a" text-anchor="middle" stroke="#2a2a2a" stroke-width="0.12">5</text>
<text x="440.65" y="222.95" font-size="4.8" fill="#2a2a2a" text-anchor="middle" stroke="#2a2a2a" stroke-width="0.12">2</text>
<text x="453" y="222.95" font-size="4.8" fill="#2a2a2a" text-anchor="middle" stroke="#2a2a2a" stroke-width="0.12">1</text>
<text x="467.3" y="222.95" font-size="4.8" fill="#2a2a2a" text-anchor="middle" stroke="#2a2a2a" stroke-width="0.12">15</text>
<line x1="296.1" y1="245.4" x2="481.8" y2="245.4" stroke="#7a7a7a" stroke-width="1.5"/>
<rect x="304.1" y="237.6" width="16" height="15.6" fill="#5836cf"/>
<rect x="321.3" y="237.6" width="8.7" height="15.6" fill="#f0567f"/>
<rect x="335.5" y="237.6" width="10.5" height="15.6" fill="#fcb380"/>
<rect x="346" y="237.6" width="9" height="15.6" fill="#d2572a"/>
<rect x="360.3" y="237.6" width="15.4" height="15.6" fill="#0d7e71"/>
<rect x="376" y="237.6" width="9.2" height="15.6" fill="#9b91b5"/>
<rect x="385.9" y="237.6" width="15.6" height="15.6" fill="#7e8774"/>
<rect x="404.1" y="237.6" width="3.9" height="15.6" fill="#4cb985"/>
<rect x="409.2" y="237.6" width="15.8" height="15.6" fill="#f00a20"/>
<rect x="436.3" y="237.6" width="8.4" height="15.6" fill="#fcfa1e"/>
<rect x="446.5" y="237.6" width="8.4" height="15.6" fill="#fcfa1e"/>
<rect x="455.2" y="237.6" width="15.7" height="15.6" fill="#d616d3"/>
<rect x="475" y="237.6" width="4.6" height="15.6" fill="#156acd"/>
<text x="312.1" y="247.35" font-size="4.8" fill="#2a2a2a" text-anchor="middle" stroke="#2a2a2a" stroke-width="0.12">9</text>
<text x="325.65" y="247.35" font-size="4.8" fill="#2a2a2a" text-anchor="middle" stroke="#2a2a2a" stroke-width="0.12">3</text>
<text x="340.75" y="247.35" font-size="4.8" fill="#2a2a2a" text-anchor="middle" stroke="#2a2a2a" stroke-width="0.12">10</text>
<text x="350.5" y="247.35" font-size="4.8" fill="#2a2a2a" text-anchor="middle" stroke="#2a2a2a" stroke-width="0.12">12</text>
<text x="368" y="247.35" font-size="4.8" fill="#2a2a2a" text-anchor="middle" stroke="#2a2a2a" stroke-width="0.12">4</text>
<text x="380.6" y="247.35" font-size="4.8" fill="#2a2a2a" text-anchor="middle" stroke="#2a2a2a" stroke-width="0.12">6</text>
<text x="393.7" y="247.35" font-size="4.8" fill="#2a2a2a" text-anchor="middle" stroke="#2a2a2a" stroke-width="0.12">11</text>
<text x="406.05" y="247.35" font-size="4.8" fill="#2a2a2a" text-anchor="middle" stroke="#2a2a2a" stroke-width="0.12">13</text>
<text x="417.1" y="247.35" font-size="4.8" fill="#2a2a2a" text-anchor="middle" stroke="#2a2a2a" stroke-width="0.12">5</text>
<text x="440.5" y="247.35" font-size="4.8" fill="#2a2a2a" text-anchor="middle" stroke="#2a2a2a" stroke-width="0.12">2</text>
<text x="450.7" y="247.35" font-size="4.8" fill="#2a2a2a" text-anchor="middle" stroke="#2a2a2a" stroke-width="0.12">2</text>
<text x="463.05" y="247.35" font-size="4.8" fill="#2a2a2a" text-anchor="middle" stroke="#2a2a2a" stroke-width="0.12">1</text>
<text x="477.3" y="247.35" font-size="4.8" fill="#2a2a2a" text-anchor="middle" stroke="#2a2a2a" stroke-width="0.12">15</text>
<line x1="296.1" y1="269.7" x2="471.6" y2="269.7" stroke="#7a7a7a" stroke-width="1.5"/>
<rect x="304.1" y="261.9" width="16" height="15.6" fill="#5836cf"/>
<rect x="321.3" y="261.9" width="8.7" height="15.6" fill="#f0567f"/>
<rect x="335.5" y="261.9" width="10.5" height="15.6" fill="#fcb380"/>
<rect x="346" y="261.9" width="9" height="15.6" fill="#d2572a"/>
<rect x="360.3" y="261.9" width="15.4" height="15.6" fill="#0d7e71"/>
<rect x="376" y="261.9" width="9.5" height="15.6" fill="#9b91b5"/>
<rect x="385.9" y="261.9" width="15.6" height="15.6" fill="#7e8774"/>
<rect x="404.1" y="261.9" width="3.9" height="15.6" fill="#4cb985"/>
<rect x="409.2" y="261.9" width="15.8" height="15.6" fill="#f00a20"/>
<rect x="436.3" y="261.9" width="8.7" height="15.6" fill="#fcfa1e"/>
<rect x="445" y="261.9" width="16" height="15.6" fill="#d616d3"/>
<rect x="464.8" y="261.9" width="4.7" height="15.6" fill="#156acd"/>
<text x="312.1" y="271.65" font-size="4.8" fill="#2a2a2a" text-anchor="middle" stroke="#2a2a2a" stroke-width="0.12">9</text>
<text x="325.65" y="271.65" font-size="4.8" fill="#2a2a2a" text-anchor="middle" stroke="#2a2a2a" stroke-width="0.12">3</text>
<text x="340.75" y="271.65" font-size="4.8" fill="#2a2a2a" text-anchor="middle" stroke="#2a2a2a" stroke-width="0.12">10</text>
<text x="350.5" y="271.65" font-size="4.8" fill="#2a2a2a" text-anchor="middle" stroke="#2a2a2a" stroke-width="0.12">12</text>
<text x="368" y="271.65" font-size="4.8" fill="#2a2a2a" text-anchor="middle" stroke="#2a2a2a" stroke-width="0.12">4</text>
<text x="380.75" y="271.65" font-size="4.8" fill="#2a2a2a" text-anchor="middle" stroke="#2a2a2a" stroke-width="0.12">6</text>
<text x="393.7" y="271.65" font-size="4.8" fill="#2a2a2a" text-anchor="middle" stroke="#2a2a2a" stroke-width="0.12">11</text>
<text x="406.05" y="271.65" font-size="4.8" fill="#2a2a2a" text-anchor="middle" stroke="#2a2a2a" stroke-width="0.12">13</text>
<text x="417.1" y="271.65" font-size="4.8" fill="#2a2a2a" text-anchor="middle" stroke="#2a2a2a" stroke-width="0.12">5</text>
<text x="440.65" y="271.65" font-size="4.8" fill="#2a2a2a" text-anchor="middle" stroke="#2a2a2a" stroke-width="0.12">2</text>
<text x="453" y="271.65" font-size="4.8" fill="#2a2a2a" text-anchor="middle" stroke="#2a2a2a" stroke-width="0.12">1</text>
<text x="467.15" y="271.65" font-size="4.8" fill="#2a2a2a" text-anchor="middle" stroke="#2a2a2a" stroke-width="0.12">15</text>
<line x1="296.1" y1="293.8" x2="476" y2="293.8" stroke="#7a7a7a" stroke-width="1.5"/>
<rect x="304.1" y="286" width="16" height="15.6" fill="#5836cf"/>
<rect x="321.3" y="286" width="8.7" height="15.6" fill="#f0567f"/>
<rect x="335.5" y="286" width="10.5" height="15.6" fill="#fcb380"/>
<rect x="346" y="286" width="9" height="15.6" fill="#d2572a"/>
<rect x="360.3" y="286" width="15.4" height="15.6" fill="#0d7e71"/>
<rect x="376" y="286" width="9.5" height="15.6" fill="#9b91b5"/>
<rect x="385.9" y="286" width="15.6" height="15.6" fill="#7e8774"/>
<rect x="408.4" y="286" width="4.7" height="15.6" fill="#4cb985"/>
<rect x="413.8" y="286" width="15.7" height="15.6" fill="#f00a20"/>
<rect x="441.1" y="286" width="8.7" height="15.6" fill="#fcfa1e"/>
<rect x="449.8" y="286" width="15.6" height="15.6" fill="#d616d3"/>
<rect x="469.7" y="286" width="4.1" height="15.6" fill="#156acd"/>
<text x="312.1" y="295.75" font-size="4.8" fill="#2a2a2a" text-anchor="middle" stroke="#2a2a2a" stroke-width="0.12">9</text>
<text x="325.65" y="295.75" font-size="4.8" fill="#2a2a2a" text-anchor="middle" stroke="#2a2a2a" stroke-width="0.12">3</text>
<text x="340.75" y="295.75" font-size="4.8" fill="#2a2a2a" text-anchor="middle" stroke="#2a2a2a" stroke-width="0.12">10</text>
<text x="350.5" y="295.75" font-size="4.8" fill="#2a2a2a" text-anchor="middle" stroke="#2a2a2a" stroke-width="0.12">12</text>
<text x="368" y="295.75" font-size="4.8" fill="#2a2a2a" text-anchor="middle" stroke="#2a2a2a" stroke-width="0.12">4</text>
<text x="380.75" y="295.75" font-size="4.8" fill="#2a2a2a" text-anchor="middle" stroke="#2a2a2a" stroke-width="0.12">6</text>
<text x="393.7" y="295.75" font-size="4.8" fill="#2a2a2a" text-anchor="middle" stroke="#2a2a2a" stroke-width="0.12">11</text>
<text x="410.75" y="295.75" font-size="4.8" fill="#2a2a2a" text-anchor="middle" stroke="#2a2a2a" stroke-width="0.12">13</text>
<text x="421.65" y="295.75" font-size="4.8" fill="#2a2a2a" text-anchor="middle" stroke="#2a2a2a" stroke-width="0.12">5</text>
<text x="445.45" y="295.75" font-size="4.8" fill="#2a2a2a" text-anchor="middle" stroke="#2a2a2a" stroke-width="0.12">2</text>
<text x="457.6" y="295.75" font-size="4.8" fill="#2a2a2a" text-anchor="middle" stroke="#2a2a2a" stroke-width="0.12">1</text>
<text x="471.75" y="295.75" font-size="4.8" fill="#2a2a2a" text-anchor="middle" stroke="#2a2a2a" stroke-width="0.12">15</text>
<rect x="497.4" y="19.2" width="19.9" height="7.9" fill="#5836cf"/>
<text transform="translate(519 25.3) scale(1 0.97)" font-size="8.1" fill="#333" stroke="#333" stroke-width="0.15">Motif 9</text>
<rect x="497.4" y="29.3" width="19.9" height="7.9" fill="#f0567f"/>
<text transform="translate(519 35.4) scale(1 0.97)" font-size="8.1" fill="#333" stroke="#333" stroke-width="0.15">Motif 3</text>
<rect x="497.4" y="39.4" width="19.9" height="7.9" fill="#4cb985"/>
<text transform="translate(519 45.5) scale(1 0.97)" font-size="8.1" fill="#333" stroke="#333" stroke-width="0.15">Motif 13</text>
<rect x="497.4" y="49.5" width="19.9" height="7.9" fill="#fcb380"/>
<text transform="translate(519 55.6) scale(1 0.97)" font-size="8.1" fill="#333" stroke="#333" stroke-width="0.15">Motif 10</text>
<rect x="497.4" y="59.6" width="19.9" height="7.9" fill="#acd880"/>
<text transform="translate(519 65.7) scale(1 0.97)" font-size="8.1" fill="#333" stroke="#333" stroke-width="0.15">Motif 7</text>
<rect x="497.4" y="69.7" width="19.9" height="7.9" fill="#0d7e71"/>
<text transform="translate(519 75.8) scale(1 0.97)" font-size="8.1" fill="#333" stroke="#333" stroke-width="0.15">Motif 4</text>
<rect x="497.4" y="79.8" width="19.9" height="7.9" fill="#9b91b5"/>
<text transform="translate(519 85.9) scale(1 0.97)" font-size="8.1" fill="#333" stroke="#333" stroke-width="0.15">Motif 6</text>
<rect x="497.4" y="89.9" width="19.9" height="7.9" fill="#d2572a"/>
<text transform="translate(519 96) scale(1 0.97)" font-size="8.1" fill="#333" stroke="#333" stroke-width="0.15">Motif 12</text>
<rect x="497.4" y="100" width="19.9" height="7.9" fill="#f294b4"/>
<text transform="translate(519 106.1) scale(1 0.97)" font-size="8.1" fill="#333" stroke="#333" stroke-width="0.15">Motif 14</text>
<rect x="497.4" y="110.1" width="19.9" height="7.9" fill="#f00a20"/>
<text transform="translate(519 116.2) scale(1 0.97)" font-size="8.1" fill="#333" stroke="#333" stroke-width="0.15">Motif 5</text>
<rect x="497.4" y="120.2" width="19.9" height="7.9" fill="#fe7f0a"/>
<text transform="translate(519 126.3) scale(1 0.97)" font-size="8.1" fill="#333" stroke="#333" stroke-width="0.15">Motif 8</text>
<rect x="497.4" y="130.3" width="19.9" height="7.9" fill="#fcfa1e"/>
<text transform="translate(519 136.4) scale(1 0.97)" font-size="8.1" fill="#333" stroke="#333" stroke-width="0.15">Motif 2</text>
<rect x="497.4" y="140.4" width="19.9" height="7.9" fill="#d616d3"/>
<text transform="translate(519 146.5) scale(1 0.97)" font-size="8.1" fill="#333" stroke="#333" stroke-width="0.15">Motif 1</text>
<rect x="497.4" y="150.5" width="19.9" height="7.9" fill="#156acd"/>
<text transform="translate(519 156.6) scale(1 0.97)" font-size="8.1" fill="#333" stroke="#333" stroke-width="0.15">Motif 15</text>
<rect x="497.4" y="160.6" width="19.9" height="7.9" fill="#7e8774"/>
<text transform="translate(519 166.7) scale(1 0.97)" font-size="8.1" fill="#333" stroke="#333" stroke-width="0.15">Motif 11</text>
<g stroke="#9a9a9a" stroke-width="1.1">
<line x1="73.95" y1="318.2" x2="242.99" y2="318.2"/>
<line x1="73.95" y1="318.2" x2="73.95" y2="325.4"/>
<line x1="95.08" y1="318.2" x2="95.08" y2="325.4"/>
<line x1="116.21" y1="318.2" x2="116.21" y2="325.4"/>
<line x1="137.34" y1="318.2" x2="137.34" y2="325.4"/>
<line x1="158.47" y1="318.2" x2="158.47" y2="325.4"/>
<line x1="179.6" y1="318.2" x2="179.6" y2="325.4"/>
<line x1="200.73" y1="318.2" x2="200.73" y2="325.4"/>
<line x1="221.86" y1="318.2" x2="221.86" y2="325.4"/>
<line x1="242.99" y1="318.2" x2="242.99" y2="325.4"/>
</g>
<text x="74.45" y="332.8" font-size="8" fill="#333" text-anchor="middle" stroke="#333" stroke-width="0.12">0</text>
<text x="95.58" y="332.8" font-size="8" fill="#333" text-anchor="middle" stroke="#333" stroke-width="0.12">1000</text>
<text x="116.71" y="332.8" font-size="8" fill="#333" text-anchor="middle" stroke="#333" stroke-width="0.12">2000</text>
<text x="137.84" y="332.8" font-size="8" fill="#333" text-anchor="middle" stroke="#333" stroke-width="0.12">3000</text>
<text x="158.97" y="332.8" font-size="8" fill="#333" text-anchor="middle" stroke="#333" stroke-width="0.12">4000</text>
<text x="180.1" y="332.8" font-size="8" fill="#333" text-anchor="middle" stroke="#333" stroke-width="0.12">5000</text>
<text x="201.23" y="332.8" font-size="8" fill="#333" text-anchor="middle" stroke="#333" stroke-width="0.12">6000</text>
<text x="222.36" y="332.8" font-size="8" fill="#333" text-anchor="middle" stroke="#333" stroke-width="0.12">7000</text>
<text x="243.49" y="332.8" font-size="8" fill="#333" text-anchor="middle" stroke="#333" stroke-width="0.12">8000</text>
<text x="67.2" y="319.9" font-size="7.8" fill="#333" stroke="#333" stroke-width="0.12">5'</text>
<text x="244.6" y="319.9" font-size="7.8" fill="#333" stroke="#333" stroke-width="0.12">3'</text>
<g stroke="#9a9a9a" stroke-width="1.1">
<line x1="296.4" y1="318.2" x2="490.8" y2="318.2"/>
<line x1="296.4" y1="318.2" x2="296.4" y2="325.4"/>
<line x1="328.8" y1="318.2" x2="328.8" y2="325.4"/>
<line x1="361.2" y1="318.2" x2="361.2" y2="325.4"/>
<line x1="393.6" y1="318.2" x2="393.6" y2="325.4"/>
<line x1="426" y1="318.2" x2="426" y2="325.4"/>
<line x1="458.4" y1="318.2" x2="458.4" y2="325.4"/>
<line x1="490.8" y1="318.2" x2="490.8" y2="325.4"/>
</g>
<text x="296.9" y="332.8" font-size="8" fill="#333" text-anchor="middle" stroke="#333" stroke-width="0.12">0</text>
<text x="329.3" y="332.8" font-size="8" fill="#333" text-anchor="middle" stroke="#333" stroke-width="0.12">100</text>
<text x="361.7" y="332.8" font-size="8" fill="#333" text-anchor="middle" stroke="#333" stroke-width="0.12">200</text>
<text x="394.1" y="332.8" font-size="8" fill="#333" text-anchor="middle" stroke="#333" stroke-width="0.12">300</text>
<text x="426.5" y="332.8" font-size="8" fill="#333" text-anchor="middle" stroke="#333" stroke-width="0.12">400</text>
<text x="458.9" y="332.8" font-size="8" fill="#333" text-anchor="middle" stroke="#333" stroke-width="0.12">500</text>
<text x="491.3" y="332.8" font-size="8" fill="#333" text-anchor="middle" stroke="#333" stroke-width="0.12">600</text>
<text x="289.5" y="319.9" font-size="7.8" fill="#333" stroke="#333" stroke-width="0.12">5'</text>
<text x="492.6" y="319.9" font-size="7.8" fill="#333" stroke="#333" stroke-width="0.12">3'</text>
</svg></body></html>
